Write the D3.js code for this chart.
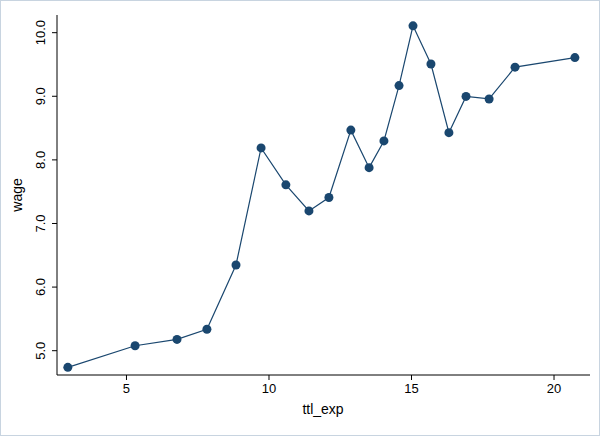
<!DOCTYPE html>
<html><head><meta charset="utf-8">
<script src="https://d3js.org/d3.v7.min.js"></script>
<style>body{margin:0;background:#fff}</style>
</head><body>
<svg id="vis"></svg>
<script>
const ttlExp = [2.96, 5.32, 6.79, 7.84, 8.86, 9.74, 10.61, 11.42, 12.12, 12.89, 13.53, 14.05, 14.58, 15.07, 15.7, 16.33, 16.93, 17.74, 18.65, 20.75]
const wage = [4.73, 5.07, 5.17, 5.33, 6.34, 8.18, 7.60, 7.19, 7.40, 8.46, 7.87, 8.29, 9.16, 10.10, 9.50, 8.42, 8.99, 8.95, 9.45, 9.60]
const xTicks = [5, 10, 15, 20]
const yTicks = [5, 6, 7, 8, 9, 10]

const W = 600, H = 436
const svg = d3.select('#vis').attr('width', W).attr('height', H)
  .style('font-family', 'Liberation Sans, Arial, sans-serif')

svg.append('rect').attr('x', 0.5).attr('y', 0.5).attr('width', W - 1).attr('height', H - 1)
  .attr('fill', '#fff').attr('stroke', '#c8d4e0')

const x = d3.scaleLinear().domain([2.58, 21.28]).range([57, 590])
const y = d3.scaleLinear().domain([4.61, 10.27]).range([375, 15])

const xAxis = svg.append('g').attr('transform', 'translate(0,375)')
  .call(d3.axisBottom(x).tickValues(xTicks).tickSize(5).tickPadding(4))
const yAxis = svg.append('g').attr('transform', 'translate(57,0)')
  .call(d3.axisLeft(y).tickValues(yTicks).tickSize(5).tickPadding(4))
;[xAxis, yAxis].forEach(a => {
  a.selectAll('text').style('font-size', '13px').attr('fill', '#000')
  a.selectAll('line, path').attr('stroke', '#000')
})
yAxis.select('.domain').attr('d', 'M0,375V15')
xAxis.select('.domain').attr('d', 'M57,0H590')
yAxis.selectAll('.tick text').attr('transform', 'rotate(-90)')
  .attr('x', 0).attr('y', -12).attr('text-anchor', 'middle').attr('dy', '0')

svg.append('text').attr('x', 323).attr('y', 414).attr('text-anchor', 'middle')
  .style('font-size', '14px').text('ttl_exp')
svg.append('text').attr('transform', 'translate(22,195) rotate(-90)').attr('text-anchor', 'middle')
  .style('font-size', '14px').text('wage')

const pts = ttlExp.map((d, i) => [d, wage[i]])
svg.append('path').datum(pts)
  .attr('d', d3.line().x(d => x(d[0])).y(d => y(d[1])))
  .attr('fill', 'none').attr('stroke', '#1a476f').attr('stroke-width', 1.2)
svg.selectAll('circle').data(pts).enter().append('circle')
  .attr('cx', d => x(d[0])).attr('cy', d => y(d[1])).attr('r', 4.5)
  .attr('fill', '#1a476f')
</script>
</body></html>
